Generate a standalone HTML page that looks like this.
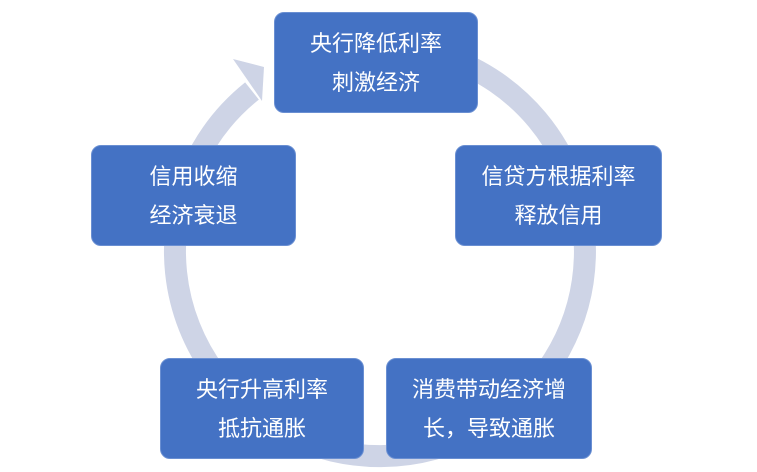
<!DOCTYPE html>
<html><head><meta charset="utf-8"><style>
html,body{margin:0;padding:0;background:#fff;}
body{width:757px;height:472px;position:relative;overflow:hidden;font-family:"Liberation Sans","Noto Sans CJK SC",sans-serif;}
.b{position:absolute;width:204px;height:101px;background:#4472c4;border:1px solid #6a8fd2;border-radius:10px;box-sizing:border-box;color:#fff;font-size:22px;line-height:39px;text-align:center;display:flex;flex-direction:column;justify-content:center;}
</style></head><body>
<svg width="757" height="472" style="position:absolute;left:0;top:0">
<path d="M 300 62.4 A 205 205 0 1 1 252 91" fill="none" stroke="#ced4e6" stroke-width="22"/>
<polygon points="233,59 264,67 262,101" fill="#ced4e6"/>
</svg>
<div class="b" style="left:274px;top:12px">央行降低利率<br>刺激经济</div>
<div class="b" style="left:455px;top:145px;width:207px">信贷方根据利率<br>释放信用</div>
<div class="b" style="left:386px;top:358px;width:206px">消费带动经济增<br>长，导致通胀</div>
<div class="b" style="left:160px;top:358px">央行升高利率<br>抵抗通胀</div>
<div class="b" style="left:91px;top:145px;width:205px">信用收缩<br>经济衰退</div>
</body></html>
